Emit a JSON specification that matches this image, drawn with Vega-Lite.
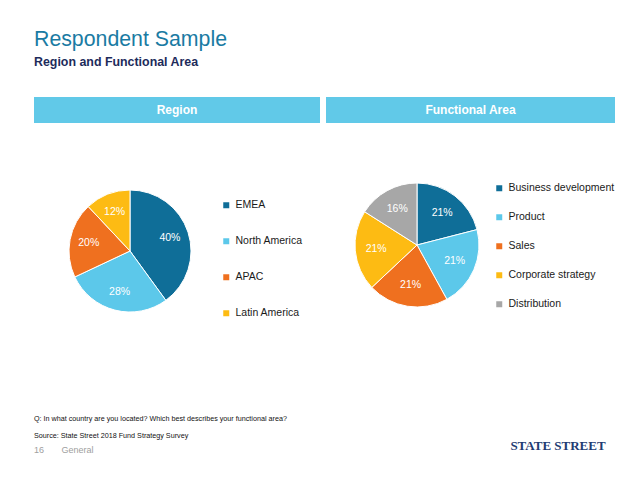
{
  "$schema": "https://vega.github.io/schema/vega-lite/v6.json",
  "background": "white",
  "padding": {"left": 34, "top": 29, "right": 0, "bottom": 0},
  "config": {"font": "Liberation Sans", "view": {"stroke": null}},
  "title": {
    "text": "Respondent Sample",
    "subtitle": "Region and Functional Area",
    "anchor": "start",
    "font": "Liberation Sans",
    "fontSize": 21.3,
    "fontWeight": "normal",
    "color": "#1A7BA3",
    "subtitleFont": "Liberation Sans",
    "subtitleFontSize": 12.4,
    "subtitleFontWeight": "bold",
    "subtitleColor": "#1D2B5B",
    "subtitlePadding": 5.5,
    "offset": 28.5
  },
  "spacing": 52,
  "resolve": {"scale": {"color": "independent"}, "legend": {"color": "independent"}},
  "vconcat": [
    {
      "spacing": 6,
      "resolve": {"scale": {"color": "independent"}, "legend": {"color": "independent"}},
      "hconcat": [
        {
          "spacing": 17,
          "vconcat": [
            {
              "width": 286,
              "height": 26,
              "view": {"fill": "#61C9E8", "stroke": null},
              "data": {"values": [{"h": "Region"}]},
              "mark": {"type": "text", "fontWeight": "bold", "fontSize": 12, "color": "white", "font": "Liberation Sans"},
              "encoding": {"text": {"field": "h", "type": "nominal"}}
            },
            {
              "width": 192,
              "height": 222,
              "data": {
                "values": [
                  {"region": "EMEA", "share": 0.40, "rank": 1},
                  {"region": "North America", "share": 0.28, "rank": 2},
                  {"region": "APAC", "share": 0.20, "rank": 3},
                  {"region": "Latin America", "share": 0.12, "rank": 4}
                ]
              },
              "encoding": {
                "theta": {"field": "share", "type": "quantitative", "stack": true},
                "order": {"field": "rank", "type": "quantitative"},
                "color": {
                  "field": "region",
                  "type": "nominal",
                  "scale": {
                    "domain": ["EMEA", "North America", "APAC", "Latin America"],
                    "range": ["#0F6E98", "#5CC8EA", "#EF701F", "#FDBB13"]
                  },
                  "legend": {
                    "orient": "none",
                    "legendX": 187,
                    "legendY": 103,
                    "title": null,
                    "symbolType": "square",
                    "symbolSize": 36,
                    "symbolStrokeWidth": 0,
                    "labelFontSize": 10.5,
                    "labelFont": "Liberation Sans",
                    "labelColor": "#1a1a1a",
                    "labelOffset": 4,
                    "rowPadding": 25
                  }
                }
              },
              "layer": [
                {"mark": {"type": "arc", "outerRadius": 61, "stroke": "white", "strokeWidth": 1}},
                {
                  "mark": {"type": "text", "radius": 42, "fontSize": 10.5, "font": "Liberation Sans", "fill": "white"},
                  "encoding": {"text": {"field": "share", "type": "quantitative", "format": ".0%"}}
                }
              ]
            }
          ]
        },
        {
          "spacing": 17,
          "vconcat": [
            {
              "width": 289,
              "height": 26,
              "view": {"fill": "#61C9E8", "stroke": null},
              "data": {"values": [{"h": "Functional Area"}]},
              "mark": {"type": "text", "fontWeight": "bold", "fontSize": 12, "color": "white", "font": "Liberation Sans"},
              "encoding": {"text": {"field": "h", "type": "nominal"}}
            },
            {
              "width": 182,
              "height": 210,
              "data": {
                "values": [
                  {"area": "Business development", "share": 0.21, "rank": 1},
                  {"area": "Product", "share": 0.21, "rank": 2},
                  {"area": "Sales", "share": 0.21, "rank": 3},
                  {"area": "Corporate strategy", "share": 0.21, "rank": 4},
                  {"area": "Distribution", "share": 0.16, "rank": 5}
                ]
              },
              "encoding": {
                "theta": {"field": "share", "type": "quantitative", "stack": true},
                "order": {"field": "rank", "type": "quantitative"},
                "color": {
                  "field": "area",
                  "type": "nominal",
                  "scale": {
                    "domain": ["Business development", "Product", "Sales", "Corporate strategy", "Distribution"],
                    "range": ["#0F6E98", "#5CC8EA", "#EF701F", "#FDBB13", "#A7A7A7"]
                  },
                  "legend": {
                    "orient": "none",
                    "legendX": 168,
                    "legendY": 86,
                    "title": null,
                    "symbolType": "square",
                    "symbolSize": 36,
                    "symbolStrokeWidth": 0,
                    "labelFontSize": 10.5,
                    "labelFont": "Liberation Sans",
                    "labelColor": "#1a1a1a",
                    "labelOffset": 4,
                    "rowPadding": 18
                  }
                }
              },
              "layer": [
                {"mark": {"type": "arc", "outerRadius": 62, "stroke": "white", "strokeWidth": 1}},
                {
                  "mark": {"type": "text", "radius": 41, "fontSize": 10.5, "font": "Liberation Sans", "fill": "white"},
                  "encoding": {"text": {"field": "share", "type": "quantitative", "format": ".0%"}}
                }
              ]
            }
          ]
        }
      ]
    },
    {
      "spacing": 10,
      "hconcat": [
        {
          "width": 464,
          "height": 1,
          "data": {"values": []},
          "mark": {"type": "text"},
          "encoding": {},
          "title": {
            "text": ["Q: In what country are you located? Which best describes your functional area?", "Source: State Street 2018 Fund Strategy Survey"],
            "subtitle": "16\u00a0\u00a0\u00a0\u00a0\u00a0\u00a0\u00a0General",
            "anchor": "start",
            "font": "Liberation Sans",
            "fontSize": 7.2,
            "fontWeight": "normal",
            "color": "#111111",
            "lineHeight": 17,
            "subtitleFont": "Liberation Sans",
            "subtitleFontSize": 9,
            "subtitleColor": "#A0A0A0",
            "subtitlePadding": 7,
            "offset": 0
          }
        },
        {
          "width": 100,
          "height": 1,
          "data": {"values": []},
          "mark": {"type": "text"},
          "encoding": {},
          "title": {
            "text": "STATE STREET",
            "anchor": "middle",
            "font": "Liberation Serif",
            "fontWeight": "bold",
            "fontSize": 13,
            "color": "#1F3C73",
            "offset": 2
          }
        }
      ]
    }
  ]
}
